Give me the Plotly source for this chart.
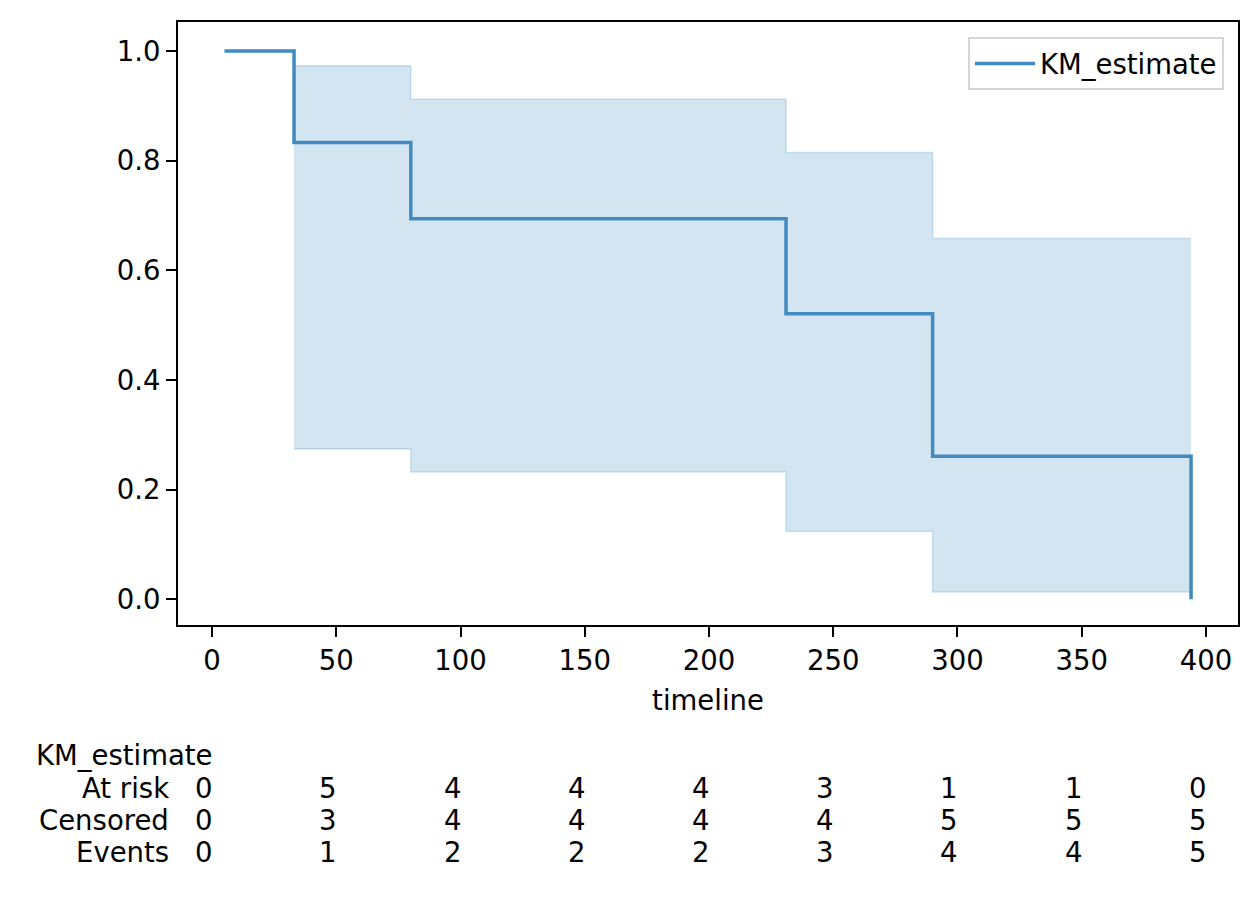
"""Kaplan-Meier con tabla de at-risk (estilo lifelines) en plotly."""
import plotly.graph_objects as go

# curva KM
timeline = [5, 33, 80, 231, 290, 394]
km_estimate = [1.0, 0.833, 0.694, 0.521, 0.261, 0.0]

# intervalo de confianza
ci_times = [33, 80, 231, 290, 394]
ci_upper = [0.973, 0.912, 0.815, 0.658, 0.658]
ci_lower = [0.274, 0.232, 0.124, 0.013, 0.013]

# tabla at-risk
table_ticks = [0, 50, 100, 150, 200, 250, 300, 350, 400]
at_risk = [0, 5, 4, 4, 4, 3, 1, 1, 0]
censored = [0, 3, 4, 4, 4, 4, 5, 5, 5]
events = [0, 1, 2, 2, 2, 3, 4, 4, 5]

FONT = "DejaVu Sans"
FS = 27.5
LINE = "#428bc0"

fig = go.Figure()
fig.add_scatter(x=ci_times, y=ci_upper, mode="lines", line_shape="hv",
                line=dict(color="rgba(52,138,189,0.22)", width=1.5),
                showlegend=False, hoverinfo="skip")
fig.add_scatter(x=ci_times, y=ci_lower, mode="lines", line_shape="hv",
                line=dict(color="rgba(52,138,189,0.22)", width=1.5),
                fill="tonexty", fillcolor="rgba(52,138,189,0.22)",
                showlegend=False, hoverinfo="skip")
fig.add_scatter(x=timeline, y=km_estimate, mode="lines", line_shape="hv",
                line=dict(color=LINE, width=3.5), name="KM_estimate")

axis = dict(showline=True, linecolor="black", linewidth=2, mirror=True,
            ticks="outside", ticklen=10, tickwidth=2, tickcolor="black",
            showgrid=False, zeroline=False,
            tickfont=dict(family=FONT, size=FS, color="black"))
fig.update_xaxes(**axis, range=[-13.7, 412.9], tickvals=table_ticks,
                 title=dict(text="timeline", standoff=16,
                            font=dict(family=FONT, size=FS, color="black")))
fig.update_yaxes(**axis, range=[-0.047, 1.053],
                 tickvals=[0, 0.2, 0.4, 0.6, 0.8, 1.0],
                 ticktext=["0.0", "0.2", "0.4", "0.6", "0.8", "1.0"])

# tabla debajo del eje
rows = [("At risk", at_risk, -0.2703), ("Censored", censored, -0.3234),
        ("Events", events, -0.3765)]
tf = dict(family=FONT, size=FS, color="black")
fig.add_annotation(text="KM_estimate", x=0, xref="x", y=-0.2156, yref="paper",
                   xanchor="right", yanchor="middle", showarrow=False, font=tf,
                   xshift=3)
for label, vals, yy in rows:
    fig.add_annotation(text=label, x=-0.0094, xref="paper", y=yy, yref="paper",
                       xanchor="right", yanchor="middle", showarrow=False, font=tf,
                       xshift=3)
    for t, v in zip(table_ticks, vals):
        fig.add_annotation(text=str(v), x=t, xref="x", y=yy, yref="paper",
                           xanchor="right", yanchor="middle", showarrow=False, font=tf,
                           xshift=3)

fig.update_layout(
    width=1248, height=902,
    margin=dict(l=170, r=18, t=14, b=285),
    paper_bgcolor="white", plot_bgcolor="white",
    font=dict(family=FONT, size=FS, color="black"),
    legend=dict(x=0.9868, y=0.975, xanchor="right", yanchor="top",
                bgcolor="white", bordercolor="#d6d6d6", borderwidth=2,
                itemwidth=60,
                font=dict(family=FONT, size=FS, color="black")),
)
fig.write_html("out.html")
